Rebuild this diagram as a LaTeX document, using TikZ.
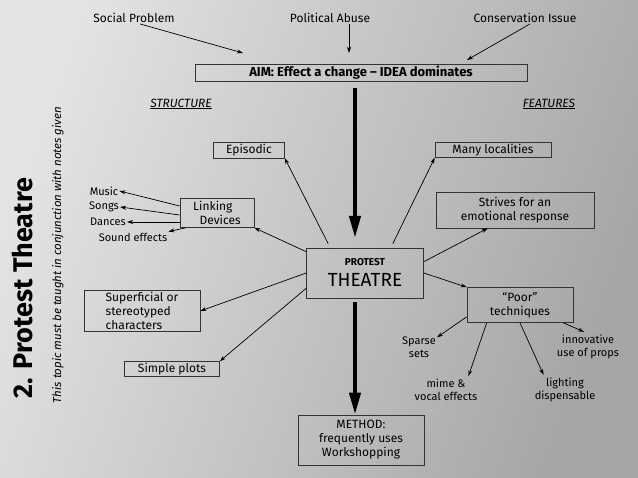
\documentclass[tikz,border=0pt]{standalone}
\usepackage{fontspec}
\setmainfont{Fira Sans}
\usetikzlibrary{arrows.meta,calc}
\begin{document}
\begin{tikzpicture}[x=1pt,y=-1pt,
  box/.style={draw=black!80,line width=0.6pt,inner sep=2pt,font=\fontsize{12}{14}\selectfont,align=center},
  lbl/.style={inner sep=1pt,font=\fontsize{11}{13}\selectfont,align=center},
  ar/.style={-{Stealth[length=6pt,width=4pt]},line width=0.7pt},
  big/.style={-{Triangle[length=22pt,width=11pt]},line width=4pt}]
\shade[left color=gray!22,right color=gray!70,shading angle=70] (0,0) rectangle (638,478);
\useasboundingbox (0,0) rectangle (638,478);
% side titles
\node[rotate=90,font=\fontsize{27}{28}\selectfont\bfseries] (t1) at (22,288) {2. Protest Theatre};
\node[rotate=90,font=\fontsize{11.5}{13}\selectfont\itshape] (t2) at (58,255) {This topic must be taught in conjunction with notes given};
% top
\node[lbl,font=\fontsize{12}{13}\selectfont] (soc) at (134,18) {Social Problem};
\node[lbl,font=\fontsize{12}{13}\selectfont] (pol) at (330,18) {Political Abuse};
\node[lbl,font=\fontsize{12}{13}\selectfont] (con) at (525,18) {Conservation Issue};
\node[box,font=\fontsize{13}{14}\selectfont\bfseries,minimum width=332,inner sep=1.5pt] (aim) at (361,73) {AIM: Effect a change -- IDEA dominates};
\draw[ar] ($(soc.south)+(6,0)$) -- (243,53);
\draw[ar] ($(pol.south)+(19,0)$) -- (349,53);
\draw[ar] ($(con.south)+(5,0)$) -- (467,60);
\node[font=\fontsize{12}{13}\selectfont\itshape] (str) at (181,104) {\underline{STRUCTURE}};
\node[font=\fontsize{12}{13}\selectfont\itshape] (fea) at (549,104) {\underline{FEATURES}};
% central
\node[box,minimum width=117,minimum height=50] (pt) at (365,273) {};
\node[font=\fontsize{10}{11}\selectfont\bfseries] (pt1) at (365,262) {PROTEST};
\node[font=\fontsize{19}{20}\selectfont] (pt2) at (365,280) {THEATRE};
\draw[big] ($(aim.south -| 355,0)+(0,6)$) -- (355,238);
\node[box,minimum width=126,minimum height=50,inner sep=1pt] (meth) at (361,440) {METHOD:\\frequently uses\\Workshopping};
\draw[big] (355,302) -- (meth.north -| 355,0);
% structure
\node[box,minimum width=71] (epi) at (249,150) {Episodic};
\node[box,minimum width=74,minimum height=29,align=left,inner sep=1pt] (link) at (217,213) {Linking\\\ \ Devices};
\node[lbl] (mus) at (104,191) {Music};
\node[lbl] (son) at (104,207) {Songs};
\node[lbl] (dan) at (108,222) {Dances};
\node[lbl] (snd) at (133,237) {Sound effects};
\node[box,minimum width=116,align=left,inner sep=1.5pt] (sup) at (142,311) {Superficial or\\ stereotyped\\ characters};
\node[box,minimum width=95,inner sep=1.5pt] (sim) at (172,369) {Simple plots};
% features
\node[box,minimum width=116,inner sep=1.5pt] (many) at (493,150) {Many localities};
\node[box,minimum width=158,minimum height=36,inner sep=1pt] (stv) at (515,210) {Strives for an\\emotional response};
\node[box,minimum width=106,minimum height=35,inner sep=1pt] (poor) at (520,305) {``Poor''\\techniques};
\node[lbl] (spa) at (419,347) {Sparse\\sets};
\node[lbl] (inn) at (588,347) {innovative\\use of props};
\node[lbl] (mim) at (446,390) {mime \&\\vocal effects};
\node[lbl] (lig) at (565,390) {lighting\\dispensable};
% arrows
\draw[ar] ($(pt.north west)+(22,-4)$) -- (epi.south east);
\draw[ar] ($(pt.north east)+(-31,-4)$) -- (many.south west);
\draw[ar] ($(pt.north west)+(0,4)$) -- (link.south east);
\draw[ar] ($(pt.north east)+(0,14)$) -- ($(stv.south west)+(52,0)$);
\draw[ar] (pt.west) -- (sup.east);
\draw[ar] ($(pt.south west)+(0,-10)$) -- (sim.north east);
\draw[ar] (pt.east) -- (poor.north west);
\draw[ar] ($(link.west)+(0,-7)$) -- (mus.east);
\draw[ar] ($(link.west)+(0,2)$) -- (son.east);
\draw[ar] ($(link.west)+(0,9)$) -- (dan.east);
\draw[ar] ($(link.south west)+(6,0)$) -- (snd.north east);
\draw[ar] ($(poor.south west)+(0,-6)$) -- ($(spa.north east)+(0,2)$);
\draw[ar] ($(poor.south west)+(20,0)$) -- ($(mim.north east)+(-10,-2)$);
\draw[ar] (poor.south) -- ($(lig.north west)+(10,-2)$);
\draw[ar] ($(poor.south east)+(-10,0)$) -- ($(inn.north)+(-4,-2)$);
\end{tikzpicture}
\end{document}
